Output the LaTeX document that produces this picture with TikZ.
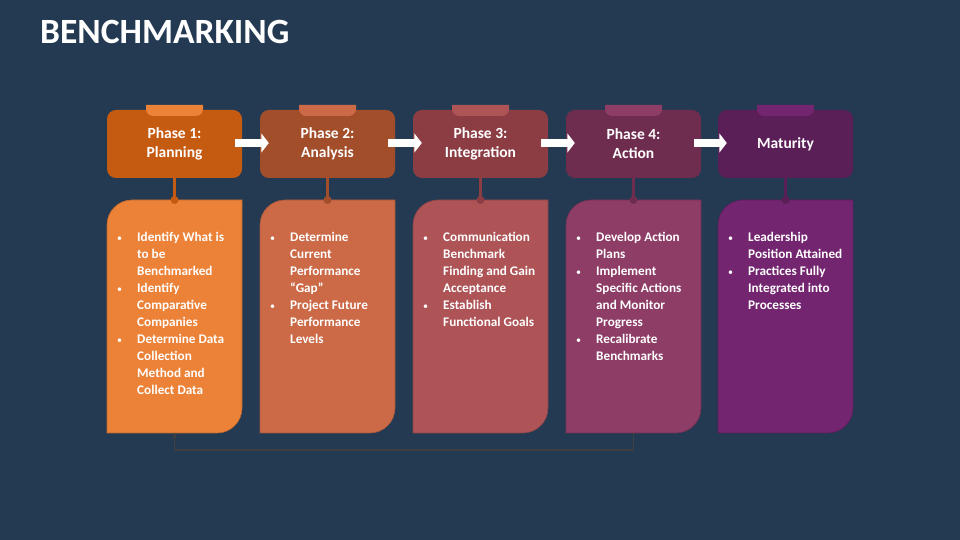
\documentclass[tikz,border=0pt]{standalone}
\usepackage{fontspec}
\setmainfont{Carlito}
\usetikzlibrary{arrows.meta}
\definecolor{bg}{HTML}{243A52}
\definecolor{hA}{HTML}{C55A11}\definecolor{bA}{HTML}{EC8238}
\definecolor{hB}{HTML}{A24E2B}\definecolor{bB}{HTML}{CC6A47}
\definecolor{hC}{HTML}{8C3D44}\definecolor{bC}{HTML}{AE5457}
\definecolor{hD}{HTML}{6E2D4F}\definecolor{bD}{HTML}{8E3D66}
\definecolor{hE}{HTML}{5B1F58}\definecolor{bE}{HTML}{732570}
\definecolor{conn}{HTML}{404040}
\newcommand\bodyfont{\fontsize{13.2}{17}\selectfont\bfseries}
\newcommand\bul{{\fontsize{10}{17}\selectfont\mdseries\textbullet}}
\tikzset{
  headbox/.style={minimum width=135pt, minimum height=68pt, rounded corners=9pt, inner sep=0pt,
    text=white, align=center, font=\fontsize{15.5}{19}\selectfont\bfseries},
  bodytext/.style={anchor=north west, inner sep=0pt, text=white, font=\bodyfont},
  flowarrow/.style={white, line width=8pt, -{Triangle[length=7.5pt,width=19pt]}},
  loopline/.style={conn, line width=1.5pt, -{Stealth[length=6pt,width=5pt]}}
}
% #1 x, #2 name, #3 head colour, #4 body colour, #5 head text, #6 body text
\newcommand\phasecol[6]{%
  \node[headbox, fill=#3] (#2h) at (#1+67.5,396) {#5};
  \fill[#4] (#1+39,435) -- (#1+39,431) arc[start angle=180, end angle=270, radius=7]
     -- (#1+89,424) arc[start angle=270, end angle=360, radius=7] -- (#1+96,435) -- cycle;
  \coordinate (#2t) at (#1+67.5,340);
  \coordinate (#2b) at (#1+67.5,107);
  \fill[#4, draw=#4!80!black, line width=0.6pt] (#1,107) -- (#1,315) arc[start angle=180, end angle=90, radius=25]
     -- (#1+135,340) -- (#1+135,132) arc[start angle=0, end angle=-90, radius=25] -- cycle;
  \draw[#3, line width=3pt] (#2h.south) -- (#2t);
  \fill[#3] (#2t) circle (4);
  \node[bodytext] (#2x) at (#1+10,311) {\begin{tabular}{@{}p{20pt}@{}l@{}}#6\end{tabular}};
}
\begin{document}
\begin{tikzpicture}[x=1pt,y=1pt]
\fill[bg] (0,0) rectangle (960,540);
\useasboundingbox (0,0) rectangle (960,540);
\node[anchor=base west, inner sep=0pt, text=white, font=\fontsize{35.5}{40}\selectfont\bfseries] (title) at (40,496) {BENCHMARKING};

\phasecol{107}{p1}{hA}{bA}{Phase 1:\\Planning}{%
 \bul & Identify What is\\ & to be\\ & Benchmarked\\
 \bul & Identify\\ & Comparative\\ & Companies\\
 \bul & Determine Data\\ & Collection\\ & Method and\\ & Collect Data}
\phasecol{260}{p2}{hB}{bB}{Phase 2:\\Analysis}{%
 \bul & Determine\\ & Current\\ & Performance\\ & “Gap”\\
 \bul & Project Future\\ & Performance\\ & Levels}
\phasecol{413}{p3}{hC}{bC}{Phase 3:\\Integration}{%
 \bul & Communication\\ & Benchmark\\ & Finding and Gain\\ & Acceptance\\
 \bul & Establish\\ & Functional Goals}
\phasecol{566}{p4}{hD}{bD}{Phase 4:\\Action}{%
 \bul & Develop Action\\ & Plans\\
 \bul & Implement\\ & Specific Actions\\ & and Monitor\\ & Progress\\
 \bul & Recalibrate\\ & Benchmarks}
\phasecol{718}{p5}{hE}{bE}{Maturity}{%
 \bul & Leadership\\ & Position Attained\\
 \bul & Practices Fully\\ & Integrated into\\ & Processes}

\draw[flowarrow] ([xshift=-7pt,yshift=1pt]p1h.east) -- ([xshift=9pt,yshift=1pt]p2h.west);
\draw[flowarrow] ([xshift=-7pt,yshift=1pt]p2h.east) -- ([xshift=9pt,yshift=1pt]p3h.west);
\draw[flowarrow] ([xshift=-7pt,yshift=1pt]p3h.east) -- ([xshift=9pt,yshift=1pt]p4h.west);
\draw[flowarrow] ([xshift=-7pt,yshift=1pt]p4h.east) -- ([xshift=9pt,yshift=1pt]p5h.west);

\draw[loopline] (p4b) -- ++(0,-17) -| (p1b);
\end{tikzpicture}
\end{document}
